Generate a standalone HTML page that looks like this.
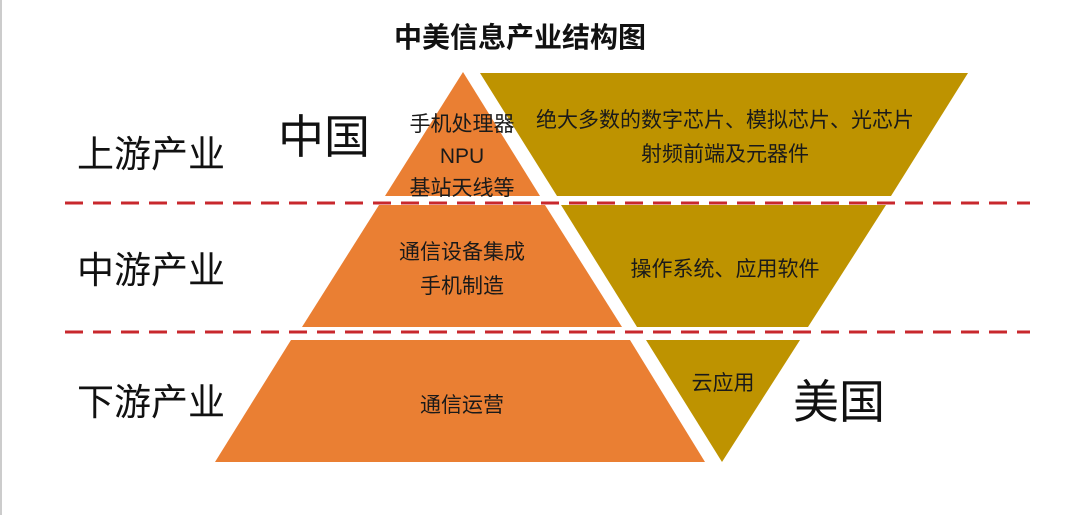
<!DOCTYPE html>
<html><head><meta charset="utf-8"><style>
html,body{margin:0;padding:0;background:#fff;}
svg{display:block;}
text{font-family:"Liberation Sans","Noto Sans CJK SC",sans-serif;}
</style></head><body>
<svg width="1080" height="515" viewBox="0 0 1080 515" xmlns="http://www.w3.org/2000/svg">
<rect x="0" y="0" width="1080" height="515" fill="#fff"/>
<line x1="1" y1="0" x2="1" y2="515" stroke="#ccc" stroke-width="2"/>
<text x="520" y="47" text-anchor="middle" font-size="28" font-weight="bold" fill="#111">中美信息产业结构图</text>
<polygon points="463,72 540,196 385,196" fill="#ea7f33"/>
<polygon points="379,205 545,205 622,327 302,327" fill="#ea7f33"/>
<polygon points="291,340 630,340 705,462 215,462" fill="#ea7f33"/>
<polygon points="480,73 968,73 891,196 557,196" fill="#be9300"/>
<polygon points="561,205 886,205 808,327 637,327" fill="#be9300"/>
<polygon points="646,340 800,340 722,462" fill="#be9300"/>
<line x1="65" y1="203" x2="1030" y2="203" stroke="#c8282d" stroke-width="3" stroke-dasharray="18,10"/>
<line x1="65" y1="332" x2="1030" y2="332" stroke="#c8282d" stroke-width="3" stroke-dasharray="18,10"/>
<g font-size="37" fill="#111">
<text x="77" y="167">上游产业</text>
<text x="77" y="283">中游产业</text>
<text x="77" y="415">下游产业</text>
</g>
<text x="278" y="153" font-size="46" fill="#111">中国</text>
<text x="793" y="418" font-size="46" fill="#111">美国</text>
<g font-size="21" fill="#1a1a1a" text-anchor="middle">
<text x="462" y="131">手机处理器</text>
<text x="462" y="163">NPU</text>
<text x="462" y="195">基站天线等</text>
<text x="725" y="127">绝大多数的数字芯片、模拟芯片、光芯片</text>
<text x="725" y="161">射频前端及元器件</text>
<text x="462" y="259">通信设备集成</text>
<text x="462" y="293">手机制造</text>
<text x="725" y="276">操作系统、应用软件</text>
<text x="462" y="412">通信运营</text>
<text x="723" y="390">云应用</text>
</g>
</svg>
</body></html>
